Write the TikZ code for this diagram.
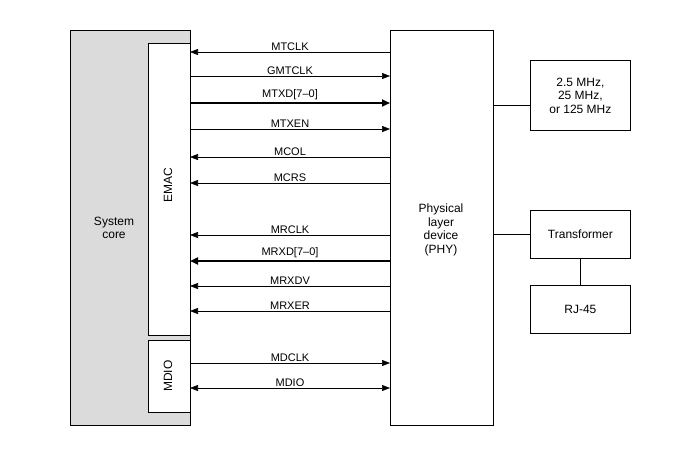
\documentclass[tikz,border=0pt]{standalone}
\usepackage{fontspec}
\setmainfont{Liberation Sans}
\usetikzlibrary{arrows.meta}
\begin{document}
\begin{tikzpicture}[x=1pt,y=-1pt,
  box/.style={draw,line width=0.8pt,inner sep=0pt},
  sig/.style={line width=0.6pt,-{Triangle[length=8pt,width=6pt]}},
  thick sig/.style={line width=2pt,-{Triangle[length=8pt,width=7pt]}},
  lab/.style={font=\fontsize{11}{12}\selectfont,anchor=south,inner sep=1.5pt},
  txt/.style={font=\fontsize{12}{13.5}\selectfont,align=center}]
\useasboundingbox (0,0) rectangle (685,461);
\node[box,fill=black!14,minimum width=120,minimum height=395,anchor=north west] (core) at (70,30) {};
\node[box,fill=white,minimum width=42,minimum height=292,anchor=north west] (emac) at (148,43) {};
\node[box,fill=white,minimum width=42,minimum height=72,anchor=north west] (mdio) at (148,340) {};
\node[box,minimum width=103,minimum height=395,anchor=north west] (phy) at (390,30) {};
\node[box,minimum width=100,minimum height=70,anchor=north west,txt] (clk) at (530,60) {2.5 MHz,\\25 MHz,\\or 125 MHz};
\node[box,minimum width=100,minimum height=48,anchor=north west,txt] (tr) at (530,210) {Transformer};
\node[box,minimum width=100,minimum height=48,anchor=north west,txt] (rj) at (530,285) {RJ-45};
\node[txt] (sc) at (114,228) {System\\core};
\node[txt,rotate=90] (em) at (168,185) {EMAC};
\node[txt,rotate=90] (md) at (168,376) {MDIO};
\node[txt] (ph) at (441,230) {Physical\\layer\\device\\(PHY)};
\draw[line width=0.6pt] (phy.east |- 0,105) -- (clk.west |- 0,105);
\draw[line width=0.6pt] (phy.east |- tr.west) -- (tr.west);
\draw[line width=0.6pt] (tr.south) -- (rj.north);
\foreach \y/\t/\d in {52/MTCLK/l,76/GMTCLK/r,129/MTXEN/r,157/MCOL/l,183/MCRS/l,235/MRCLK/l,286/MRXDV/l,311/MRXER/l,363/MDCLK/r}{
  \coordinate (a) at (190,\y); \coordinate (b) at (390,\y);
  \if\d r \draw[sig] (a) -- (b) node[lab,midway] {\t};
  \else \draw[sig] (b) -- (a) node[lab,midway] {\t}; \fi
}
\coordinate (txa) at (190,103); \coordinate (txb) at (390,103);
\draw[thick sig] (txa) -- (txb) node[lab,midway,yshift=1pt] {MTXD[7–0]};
\coordinate (rxa) at (190,261); \coordinate (rxb) at (390,261);
\draw[thick sig] (rxb) -- (rxa) node[lab,midway,yshift=1pt] {MRXD[7–0]};
\coordinate (mda) at (190,388); \coordinate (mdb) at (390,388);
\draw[line width=0.6pt,{Triangle[length=8pt,width=6pt]}-{Triangle[length=8pt,width=6pt]}] (mda) -- (mdb) node[lab,midway] {MDIO};
\end{tikzpicture}
\end{document}
